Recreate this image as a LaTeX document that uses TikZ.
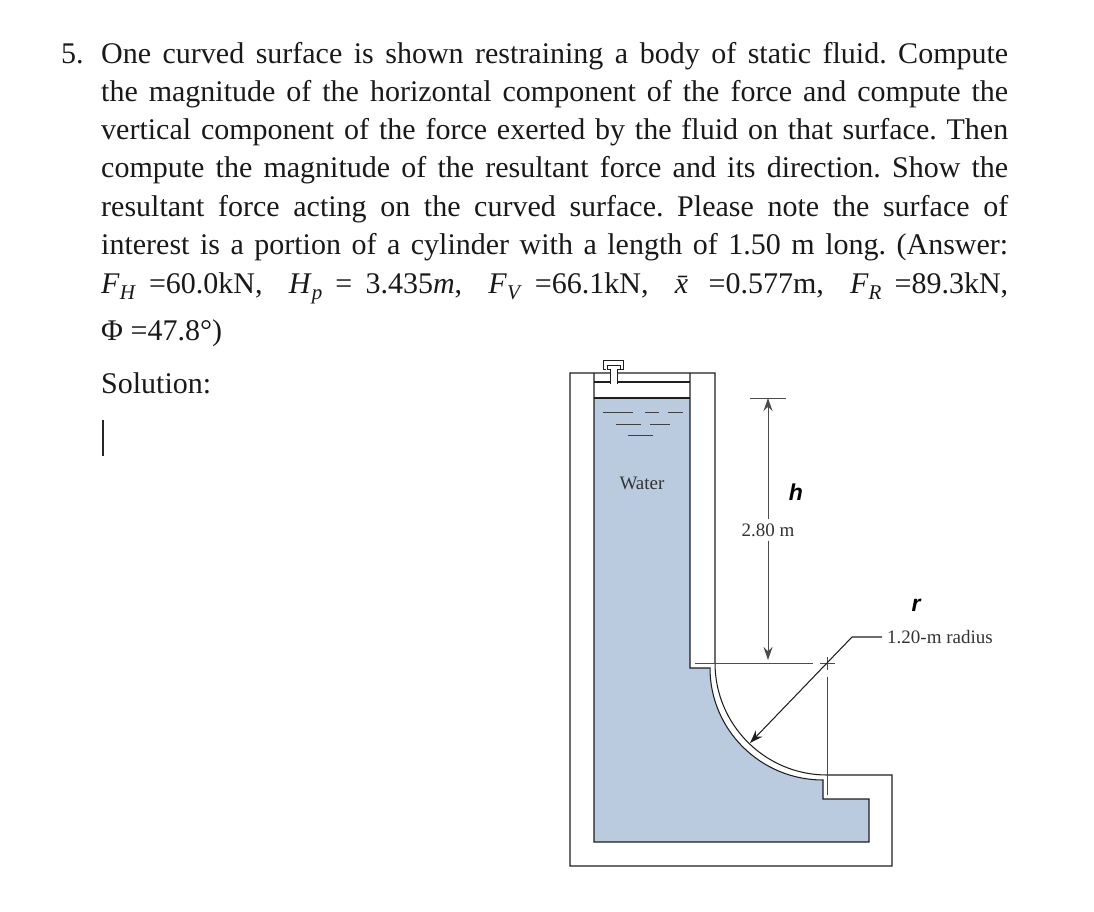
\documentclass[tikz,border=0pt]{standalone}
\usepackage{fontspec}
\setmainfont{Liberation Serif}
\setsansfont{Liberation Sans}
\usetikzlibrary{arrows.meta}
\definecolor{agua}{HTML}{BACBDF}
\definecolor{linea}{HTML}{1E1E1E}
\frenchspacing
\newcommand{\magn}[2]{\textit{#1}\raisebox{-.22em}{\fontsize{21}{21}\selectfont\textit{#2}}}
\tikzset{
    renglon/.style={anchor=base west,inner sep=0pt,font=\fontsize{30}{38}\selectfont,text=black!90},
    rotulo/.style={inner sep=1pt,font=\fontsize{19}{20}\selectfont,text=black!80},
    letra/.style={inner sep=0pt,font=\sffamily\bfseries\itshape\fontsize{23}{24}\selectfont},
    pared/.style={draw=linea,line width=1.05pt},
    cota/.style={draw=black!70,line width=1pt},
    flecha/.style={-{Stealth[length=13pt,width=9pt]}}
}
\newcommand{\linea}[3]{\node[renglon] (#1) at (101,#2) {\makebox[907pt][s]{#3}};}
\begin{document}
\begin{tikzpicture}[x=1pt,y=-1pt]
    \useasboundingbox (0,0) rectangle (1094,912);

    % Enunciado
    \node[renglon] (num) at (61,64) {5.};
    \linea{uno}{64}{One curved surface is shown restraining a body of static fluid. Compute}
    \linea{dos}{102}{the magnitude of the horizontal component of the force and compute the}
    \linea{tres}{140}{vertical component of the force exerted by the fluid on that surface. Then}
    \linea{cuatro}{178}{compute the magnitude of the resultant force and its direction. Show the}
    \linea{cinco}{216}{resultant force acting on the curved surface. Please note the surface of}
    \linea{seis}{254}{interest is a portion of a cylinder with a length of 1.50 m long. (Answer:}
    \linea{siete}{293}{\magn{F}{H} =60.0kN, \ \magn{H}{p} = 3.435\textit{m}, \ \magn{F}{V} =66.1kN, \ \textit{x̄} =0.577m, \ \magn{F}{R} =89.3kN,}
    \node[renglon] (ocho) at (101,340) {Φ =47.8°)};
    \node[renglon] (sol) at (101,393) {Solution:};
    % Cursor
    \draw[line width=1.1pt,black!85] (103,420) -- (103,456);

    % Agua
    \fill[agua] (594,398) -- (690,398) -- (690,668) -- (710,668)
        arc[start angle=180,end angle=90,x radius=113,y radius=112] -- (823,799) -- (869,799)
        -- (869,842) -- (594,842) -- cycle;
    % Pared interior
    \draw[pared] (594,373) -- (594,842) -- (869,842) -- (869,799) -- (823,799) -- (823,780)
        arc[start angle=90,end angle=180,x radius=113,y radius=112] -- (690,668) -- (690,373);
    \draw[pared] (594,398) -- (690,398);
    % Pared exterior
    \draw[pared] (715,663) -- (715,373) -- (570,373) -- (570,866) -- (892,866) -- (892,775) -- (827,775)
        arc[start angle=90,end angle=180,radius=112];
    % Piston
    \draw[pared] (594,382) -- (690,382);
    \fill[white] (610.5,371) rectangle (616.5,385);
    \draw[pared,line width=0.8pt] (610,384) -- (610,369) -- (607,369) -- (607,365) -- (620,365) -- (620,369) -- (617,369) -- (617,384);
    \draw[pared,line width=0.8pt] (606,369) -- (603.5,369) -- (603.5,360.5) -- (623.5,360.5) -- (623.5,369) -- (621,369);

    % Nivel
    \foreach \xa/\xb/\ya in {603/633/412,645/659/412,668/683/412,616/641/424,650/670/424,628/653/435}
        \draw[line width=1pt,black!75] (\xa,\ya) -- (\xb,\ya);

    % Rotulos
    \node[rotulo] (agualbl) at (642,483) {Water};
    \node[letra] (h) at (796,492) {h};
    \node[letra] (r) at (916,605) {r};
    \node[rotulo,fill=white,inner ysep=4pt] (alto) at (768,530) {2.80 m};
    \node[rotulo,anchor=west,inner sep=0pt] (radio) at (887,637) {1.20-m radius};

    % Cota
    \coordinate (tope) at (768,398);
    \coordinate (base) at (768,660);
    \coordinate (cruce) at (882,637);
    \coordinate (codo) at (852,637);
    \coordinate (pie) at (750,743);
    \draw[cota] (750,398) -- (786,398);
    \draw[cota,flecha] (alto) -- (tope);
    \draw[cota,flecha] (alto) -- (base);
    \draw[cota] (695,663) -- (813,663);
    \draw[cota] (820,663) -- (835,663);
    \draw[cota] (827,657) -- (827,670);
    \draw[cota] (827,677) -- (827,795);
    \draw[pared,flecha] (cruce) -- (codo) -- (pie);
\end{tikzpicture}
\end{document}
